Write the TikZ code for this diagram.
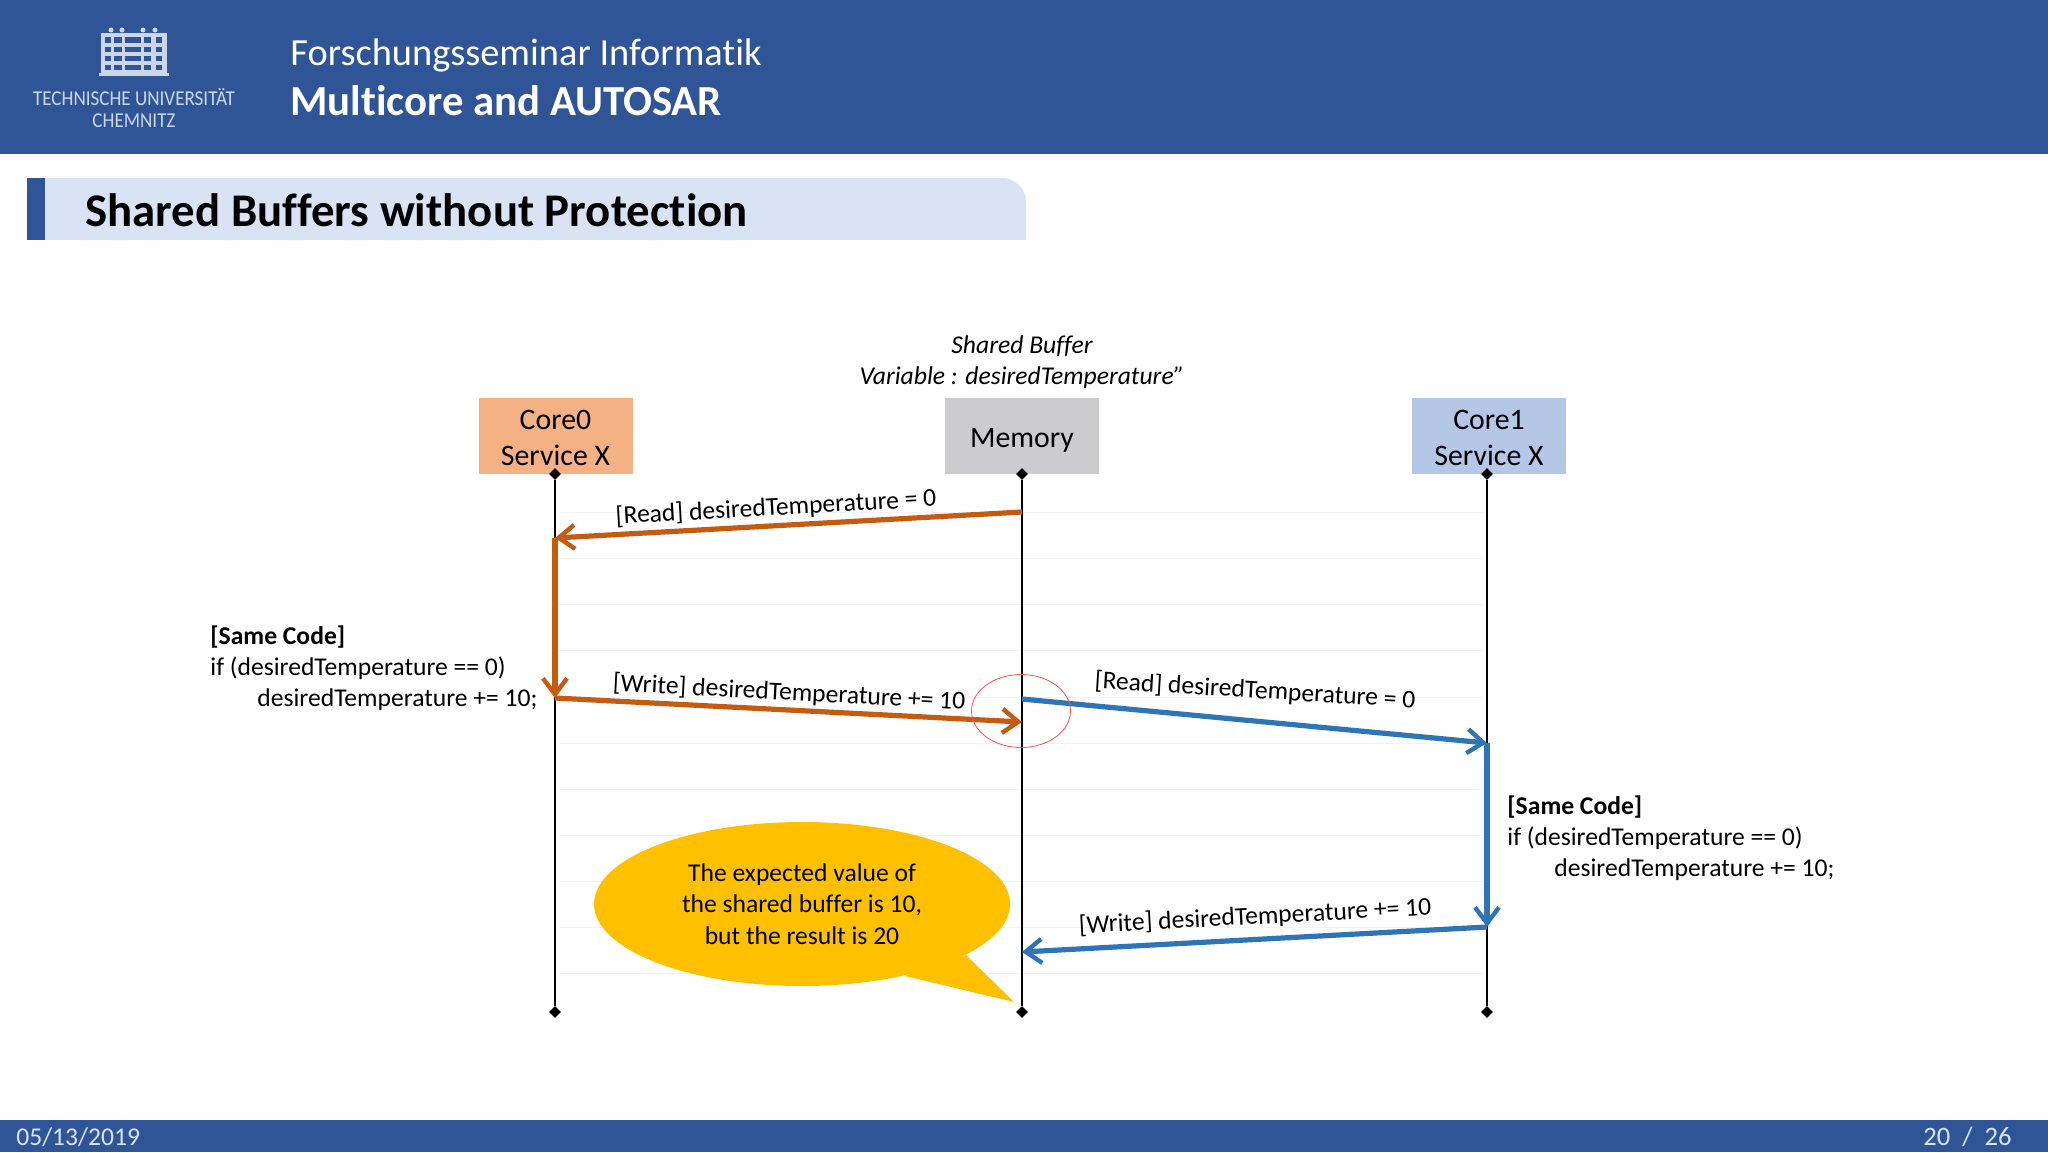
\documentclass[tikz,border=0pt]{standalone}
\usepackage{xcolor}
\usepackage{fontspec}
\setmainfont[Ligatures=CommonOff]{Carlito}
\usepackage{tikz}
\usetikzlibrary{arrows.meta, shapes.geometric, positioning, calc}

\definecolor{tubar}{HTML}{2F5597}
\definecolor{tuband}{HTML}{DAE3F3}
\definecolor{tulogo}{HTML}{CBD6E8}
\definecolor{readcol}{HTML}{C55A11}
\definecolor{bluecol}{HTML}{2E75B6}
\definecolor{corea}{HTML}{F4B183}
\definecolor{coreb}{HTML}{B4C7E7}
\definecolor{memcol}{HTML}{CCCBCE}
\definecolor{notecol}{HTML}{FFC000}
\newcommand{\fs}[1]{\fontsize{#1}{1.22\dimexpr#1pt\relax}\selectfont}

\begin{document}
\begin{tikzpicture}[
    x=0.5pt, y=-0.5pt,
    corebox/.style = {minimum width=77pt, minimum height=38pt, inner sep=0pt,
                      align=center, font=\fs{14.9}},
    dot/.style     = {diamond, fill=black, inner sep=0pt, minimum size=6pt},
    life/.style    = {line width=0.8pt},
    arr/.style     = {line width=2.6pt, -{Straight Barb[length=8pt, width=12pt, line width=2.2pt]}},
    msg/.style     = {inner sep=0pt, font=\fs{12.8}},
    code/.style    = {inner sep=0pt, anchor=west, align=left, font=\fs{12.8}},
    gridln/.style  = {line width=0.5pt, black!5},
    tulabel/.style = {inner sep=0pt, text=tulogo, xscale=0.9, font=\fs{10.6}},
  ]
  \useasboundingbox (0,0) rectangle (2048,1152);

  % header
  \fill[tubar] (0,0) rectangle (2048,154);
  \fill[tubar] (0,1120) rectangle (2048,1152);
  \fill[tuband] (45,240) -- (45,178) [rounded corners=12pt] -- (1026,178) [sharp corners] -- (1026,240) -- cycle;
  \fill[tubar] (27,178) rectangle (45,240);

  % logo
  \fill[tulogo] (101,33) rectangle (167,73);
  \fill[tulogo] (99,73) rectangle (169,76);
  \fill[tulogo] (126,33) arc[x radius=8, y radius=7, start angle=180, end angle=0, y=-0.5pt] -- cycle;
  \foreach \xx in {111,122,143,155} \fill[tulogo] (\xx,30) circle[radius=2.5];
  \foreach \yy/\hh in {37/6,47/5,56/5,65/5} \foreach \xx/\ww in {105/6,114/8,125/16,144/7,156/6}
    \fill[tubar] (\xx,\yy) rectangle ++(\ww,\hh);
  \node[tulabel] (tu) at (134,97) {TECHNISCHE UNIVERSITÄT};
  \node[tulabel] (chem) at (134,121) {CHEMNITZ};

  \node[inner sep=0pt, anchor=west, text=white, font=\fs{19.2}] (sem) at (290,55) {Forschungsseminar Informatik};
  \node[inner sep=0pt, anchor=west, text=white, font=\fs{21.4}\bfseries] (talk) at (290,101) {Multicore and AUTOSAR};
  \node[inner sep=0pt, anchor=west, font=\fs{23.4}\bfseries] (title) at (85,210) {Shared Buffers without Protection};
  \node[inner sep=0pt, anchor=west, text=tuband, font=\fs{12.8}] (date) at (16,1137) {05/13/2019};
  \node[inner sep=0pt, anchor=east, text=tuband, font=\fs{13.3}] (page) at (2012,1137) {20\ \ /\ \ 26};

  % faint table rows
  \foreach \yy in {512,558,604,650,697,743,789,835,881,927,973}
    \draw[gridln] (559,\yy) -- (1484,\yy);

  \node[corebox, fill=corea] (core0) at (555.5,436) {\rule{0pt}{11.5pt}Core0\\Service X};
  \node[corebox, fill=memcol] (mem) at (1022,436) {\rule{0pt}{14pt}Memory};
  \node[corebox, fill=coreb] (core1) at (1489,436) {\rule{0pt}{11.5pt}Core1\\Service X};
  \node[align=center, inner sep=0pt, font=\fs{12.8}\itshape] (shared) at (1022,362) {Shared Buffer\\Variable : desiredTemperature”};

  \node[dot] (top0) at (555,474) {};
  \node[dot] (top1) at (1022,474) {};
  \node[dot] (top2) at (1487,474) {};
  \node[dot] (end0) at (555,1012) {};
  \node[dot] (end1) at (1022,1012) {};
  \node[dot] (end2) at (1487,1012) {};
  \draw[life] (top0) -- (end0);
  \draw[life] (top1) -- (end1);
  \draw[life] (top2) -- (end2);

  \coordinate (a) at (1022,512);
  \coordinate (b) at (555,538);
  \coordinate (c) at (555,698);
  \coordinate (d) at (1022,722);
  \coordinate (e) at (1022,699);
  \coordinate (f) at (1487,743);
  \coordinate (g) at (1487,927);
  \coordinate (h) at (1022,952);

  \draw[arr, readcol] (a) -- (b);
  \draw[arr, readcol] (b) -- (c);
  \draw[arr, readcol] (c) -- (d);
  \draw[arr, bluecol] (e) -- (f);
  \draw[arr, bluecol] (f) -- (g);
  \draw[arr, bluecol] (g) -- (h);

  \node[msg, rotate=3.2] (m1) at (776,508) {[Read] desiredTemperature = 0};
  \node[msg, rotate=-3] (m2) at (789,693) {[Write] desiredTemperature += 10};
  \node[msg, rotate=-3.5] (m3) at (1255,691) {[Read] desiredTemperature = 0};
  \node[msg, rotate=3] (m4) at (1255,917) {[Write] desiredTemperature += 10};

  \node[draw=red!70!white, line width=0.4pt, ellipse, minimum width=49.5pt, minimum height=36.5pt, inner sep=0pt] (race) at (1021,711) {};

  \node[code] (code0) at (210,668) {\textbf{[Same Code]}\\if (desiredTemperature == 0)\\\hspace{23.5pt}desiredTemperature += 10;};
  \node[code] (code1) at (1507,838) {\textbf{[Same Code]}\\if (desiredTemperature == 0)\\\hspace{23.5pt}desiredTemperature += 10;};

  % callout
  \fill[notecol] (966,955) -- (1014,1002) -- (905,976) -- cycle;
  \node[ellipse, fill=notecol, minimum width=208pt, minimum height=82pt, inner sep=0pt,
        align=center, font=\fs{12.8}] (note) at (802,904) {The expected value of\\the shared buffer is 10,\\but the result is 20};
\end{tikzpicture}
\end{document}
